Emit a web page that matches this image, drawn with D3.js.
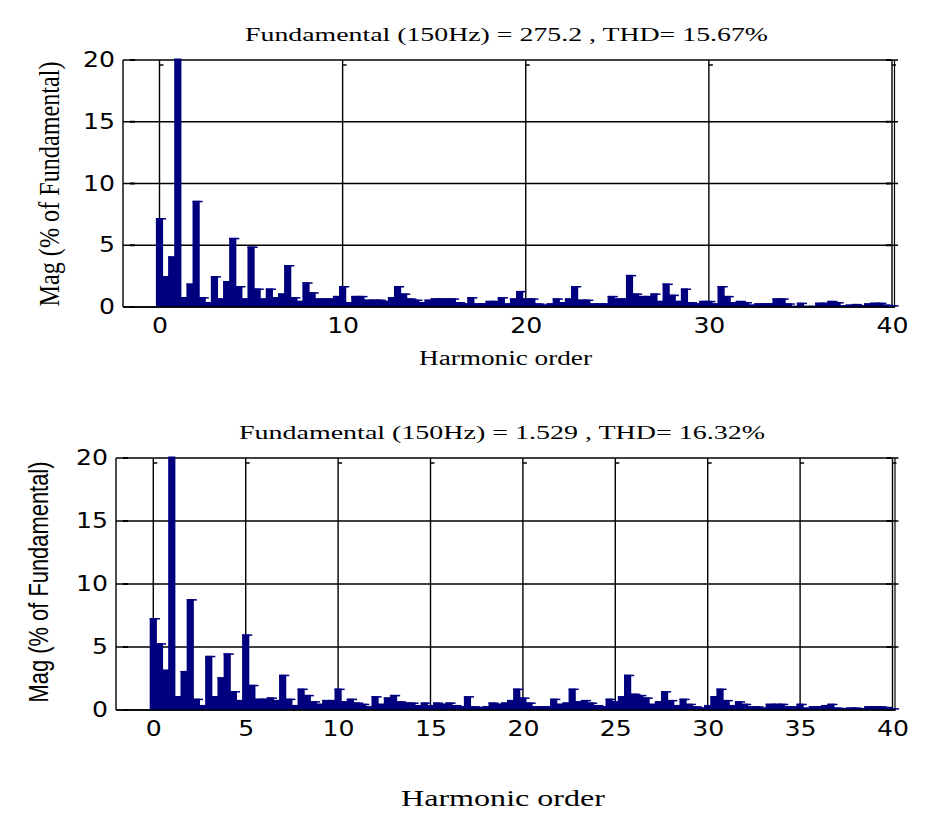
<!DOCTYPE html>
<html lang="en">
<head>
<meta charset="UTF-8">
<title>Harmonic spectrum</title>
<script src="https://d3js.org/d3.v7.min.js"></script>
<style>
  html, body { margin: 0; background: #fff; }
  svg { display: block; }
</style>
</head>
<body>
<div id="chart"></div>
<script>
// harmonic order goes up in steps of 1/3 (50Hz bins, 150Hz fundamental)
const step = 1 / 3;

const magTop = [
  7.2, 2.5, 4.1, 100, 0.8, 1.9, 8.6, 0.8, 0.4, 2.5, 0.7, 2.1, 5.6, 1.7, 0.7, 4.9,
  1.5, 0.7, 1.5, 0.8, 1.1, 3.4, 0.8, 0.5, 2.0, 1.2, 0.7, 0.7, 0.7, 0.9, 1.7, 0.4,
  0.9, 0.9, 0.6, 0.6, 0.6, 0.5, 0.8, 1.7, 1.1, 0.7, 0.6, 0.4, 0.6, 0.7, 0.7, 0.7,
  0.7, 0.4, 0.3, 0.8, 0.3, 0.3, 0.5, 0.5, 0.8, 0.3, 0.7, 1.3, 0.7, 0.7, 0.3, 0.2,
  0.3, 0.7, 0.4, 0.7, 1.7, 0.6, 0.6, 0.3, 0.3, 0.3, 0.9, 0.7, 0.7, 2.6, 1.1, 0.9,
  0.9, 1.1, 0.5, 1.9, 1.0, 0.5, 1.5, 0.4, 0.3, 0.5, 0.5, 0.3, 1.7, 0.9, 0.4, 0.5,
  0.4, 0.2, 0.3, 0.3, 0.3, 0.7, 0.7, 0.3, 0.1, 0.35, 0.1, 0.1, 0.35, 0.35, 0.5, 0.4,
  0.15, 0.2, 0.25, 0.15, 0.3, 0.35, 0.35, 0.2, 0.15
];

const magBottom = [
  7.3, 5.3, 3.2, 100, 1.1, 3.1, 8.8, 0.9, 0.4, 4.3, 1.1, 2.6, 4.5, 1.5, 0.8, 6.0,
  2.0, 0.9, 0.9, 1.0, 0.8, 2.8, 0.9, 0.4, 1.7, 1.2, 0.7, 0.5, 0.8, 0.8, 1.7, 0.7,
  0.9, 0.6, 0.5, 0.3, 1.1, 0.5, 1.0, 1.2, 0.7, 0.6, 0.6, 0.4, 0.6, 0.4, 0.6, 0.5,
  0.6, 0.4, 0.3, 1.1, 0.3, 0.25, 0.3, 0.6, 0.5, 0.6, 0.8, 1.7, 1.0, 0.6, 0.3, 0.3,
  0.3, 0.9, 0.5, 0.6, 1.7, 0.7, 0.8, 0.6, 0.4, 0.3, 0.9, 0.7, 1.1, 2.8, 1.3, 1.2,
  1.0, 0.5, 0.7, 1.5, 0.8, 0.4, 0.9, 0.5, 0.3, 0.2, 0.4, 1.1, 1.7, 0.8, 0.4, 0.7,
  0.5, 0.3, 0.3, 0.2, 0.5, 0.5, 0.5, 0.3, 0.3, 0.5, 0.2, 0.3, 0.3, 0.4, 0.5, 0.2,
  0.15, 0.2, 0.2, 0.15, 0.3, 0.3, 0.3, 0.25, 0.15
];

const yTicks = [0, 5, 10, 15, 20];
const xTicksTop = [0, 10, 20, 30, 40];
const xTicksBottom = [0, 5, 10, 15, 20, 25, 30, 35, 40];

const titleTop = "Fundamental (150Hz) = 275.2 , THD= 15.67%";
const titleBottom = "Fundamental (150Hz) = 1.529 , THD= 16.32%";
const xLabel = "Harmonic order";
const yLabel = "Mag (% of Fundamental)";

const blue = "#00007f";
const width = 925, height = 826;

const svg = d3.select("#chart").append("svg")
  .attr("width", width)
  .attr("height", height);

function panel(id, o) {
  const x = d3.scaleLinear().domain([0, 40]).range([o.x0, o.x40]);
  const y = d3.scaleLinear().domain([0, 20]).range([o.bottom, o.top]);
  const g = svg.append("g");

  svg.append("clipPath").attr("id", id)
    .append("rect")
    .attr("x", o.left).attr("y", o.top - 1.5)
    .attr("width", o.x40 + 8 - o.left).attr("height", o.bottom - o.top + 2);

  // grid first, bars cover it
  const grid = g.append("g");
  grid.selectAll(".h").data(yTicks).enter().append("line")
    .attr("x1", o.left).attr("x2", d => (d === 0 ? o.x40 + 3 : o.x40 + 6))
    .attr("y1", d => y(d)).attr("y2", d => y(d))
    .attr("stroke", "#000").attr("stroke-width", 1.4);
  grid.selectAll(".v").data(o.xTicks).enter().append("line")
    .attr("x1", d => x(d)).attr("x2", d => x(d))
    .attr("y1", o.top).attr("y2", o.bottom)
    .attr("stroke", "#000").attr("stroke-width", 1.4);
  grid.append("line")
    .attr("x1", o.left).attr("x2", o.left)
    .attr("y1", o.top).attr("y2", o.bottom)
    .attr("stroke", "#000").attr("stroke-width", 1.4);
  grid.append("line")
    .attr("x1", o.x40 + 2.5).attr("x2", o.x40 + 2.5)
    .attr("y1", o.top).attr("y2", o.bottom)
    .attr("stroke", "#000").attr("stroke-width", 1.2);

  // little tick dashes left by the export
  grid.selectAll(".tl").data(yTicks).enter().append("line")
    .attr("x1", o.left + 7).attr("x2", o.left + 12)
    .attr("y1", d => y(d)).attr("y2", d => y(d))
    .attr("stroke", "#000").attr("stroke-width", 2);
  grid.selectAll(".tr").data(yTicks).enter().append("line")
    .attr("x1", o.x40 - 6).attr("x2", o.x40 - 1)
    .attr("y1", d => y(d)).attr("y2", d => y(d))
    .attr("stroke", "#000").attr("stroke-width", 2);
  grid.selectAll(".tt").data(o.xTicks).enter().append("line")
    .attr("x1", d => x(d)).attr("x2", d => x(d) + 4)
    .attr("y1", o.top + 5).attr("y2", o.top + 5)
    .attr("stroke", "#000").attr("stroke-width", 1.5);

  // bars with the small cap sticking out to the right
  const bars = g.append("g").attr("clip-path", "url(#" + id + ")").attr("fill", blue);
  bars.selectAll(".bar").data(o.values).enter().append("rect")
    .attr("x", (d, i) => x(i * step) - 3.6)
    .attr("width", 7.2)
    .attr("y", d => y(d))
    .attr("height", d => y(0) - y(d));
  bars.selectAll(".cap").data(o.values).enter().append("rect")
    .attr("x", (d, i) => x(i * step) - 3.6)
    .attr("width", 10.2)
    .attr("y", d => y(d))
    .attr("height", 1.5);

  g.append("line")
    .attr("x1", o.left).attr("x2", o.x40 + 3)
    .attr("y1", o.bottom).attr("y2", o.bottom)
    .attr("stroke", "#000").attr("stroke-width", 1.4);

  // tick labels through the d3 axes
  const axisX = g.append("g")
    .attr("transform", "translate(0," + (o.bottom + 8) + ")")
    .call(d3.axisBottom(x).tickValues(o.xTicks).tickSize(0).tickPadding(3));
  const axisY = g.append("g")
    .attr("transform", "translate(" + o.left + ",0)")
    .call(d3.axisLeft(y).tickValues(yTicks).tickSize(0).tickPadding(8));
  [axisX, axisY].forEach(a => {
    a.select(".domain").remove();
    a.selectAll("text")
      .attr("font-family", "DejaVu Sans")
      .attr("font-size", 21)
      .attr("fill", "#000")
      .attr("lengthAdjust", "spacingAndGlyphs")
      .attr("textLength", d => String(d).length * 16);
  });

  g.append("text")
    .attr("x", o.titleX).attr("y", o.titleY)
    .attr("text-anchor", "middle")
    .attr("font-family", "Liberation Serif")
    .attr("font-size", 19)
    .attr("textLength", o.titleLen)
    .attr("lengthAdjust", "spacingAndGlyphs")
    .attr("fill", "#000")
    .text(o.title);

  g.append("text")
    .attr("x", o.xLabelX).attr("y", o.xLabelY)
    .attr("text-anchor", "middle")
    .attr("font-family", "Liberation Serif")
    .attr("font-size", o.xLabelSize)
    .attr("textLength", o.xLabelLen)
    .attr("lengthAdjust", "spacingAndGlyphs")
    .attr("fill", "#000")
    .text(xLabel);

  g.append("text")
    .attr("transform", "translate(" + o.yLabelX + "," + o.yLabelY + ") rotate(-90)")
    .attr("text-anchor", "middle")
    .attr("font-family", o.yLabelFont)
    .attr("font-size", o.yLabelSize)
    .attr("textLength", o.yLabelLen)
    .attr("lengthAdjust", "spacingAndGlyphs")
    .attr("fill", "#000")
    .text(yLabel);
}

panel("clipTop", {
  values: magTop, xTicks: xTicksTop,
  left: 123, x0: 159.5, x40: 892, top: 60, bottom: 307,
  title: titleTop, titleX: 506.5, titleY: 41, titleLen: 523,
  xLabelX: 505.5, xLabelY: 365, xLabelSize: 20, xLabelLen: 173,
  yLabelX: 59, yLabelY: 184, yLabelFont: "Liberation Serif", yLabelSize: 30, yLabelLen: 245
});

panel("clipBottom", {
  values: magBottom, xTicks: xTicksBottom,
  left: 116, x0: 153.3, x40: 892.5, top: 458, bottom: 710,
  title: titleBottom, titleX: 502, titleY: 439, titleLen: 526,
  xLabelX: 503, xLabelY: 806, xLabelSize: 24, xLabelLen: 204,
  yLabelX: 48, yLabelY: 582, yLabelFont: "Liberation Sans", yLabelSize: 27, yLabelLen: 241
});
</script>
</body>
</html>
